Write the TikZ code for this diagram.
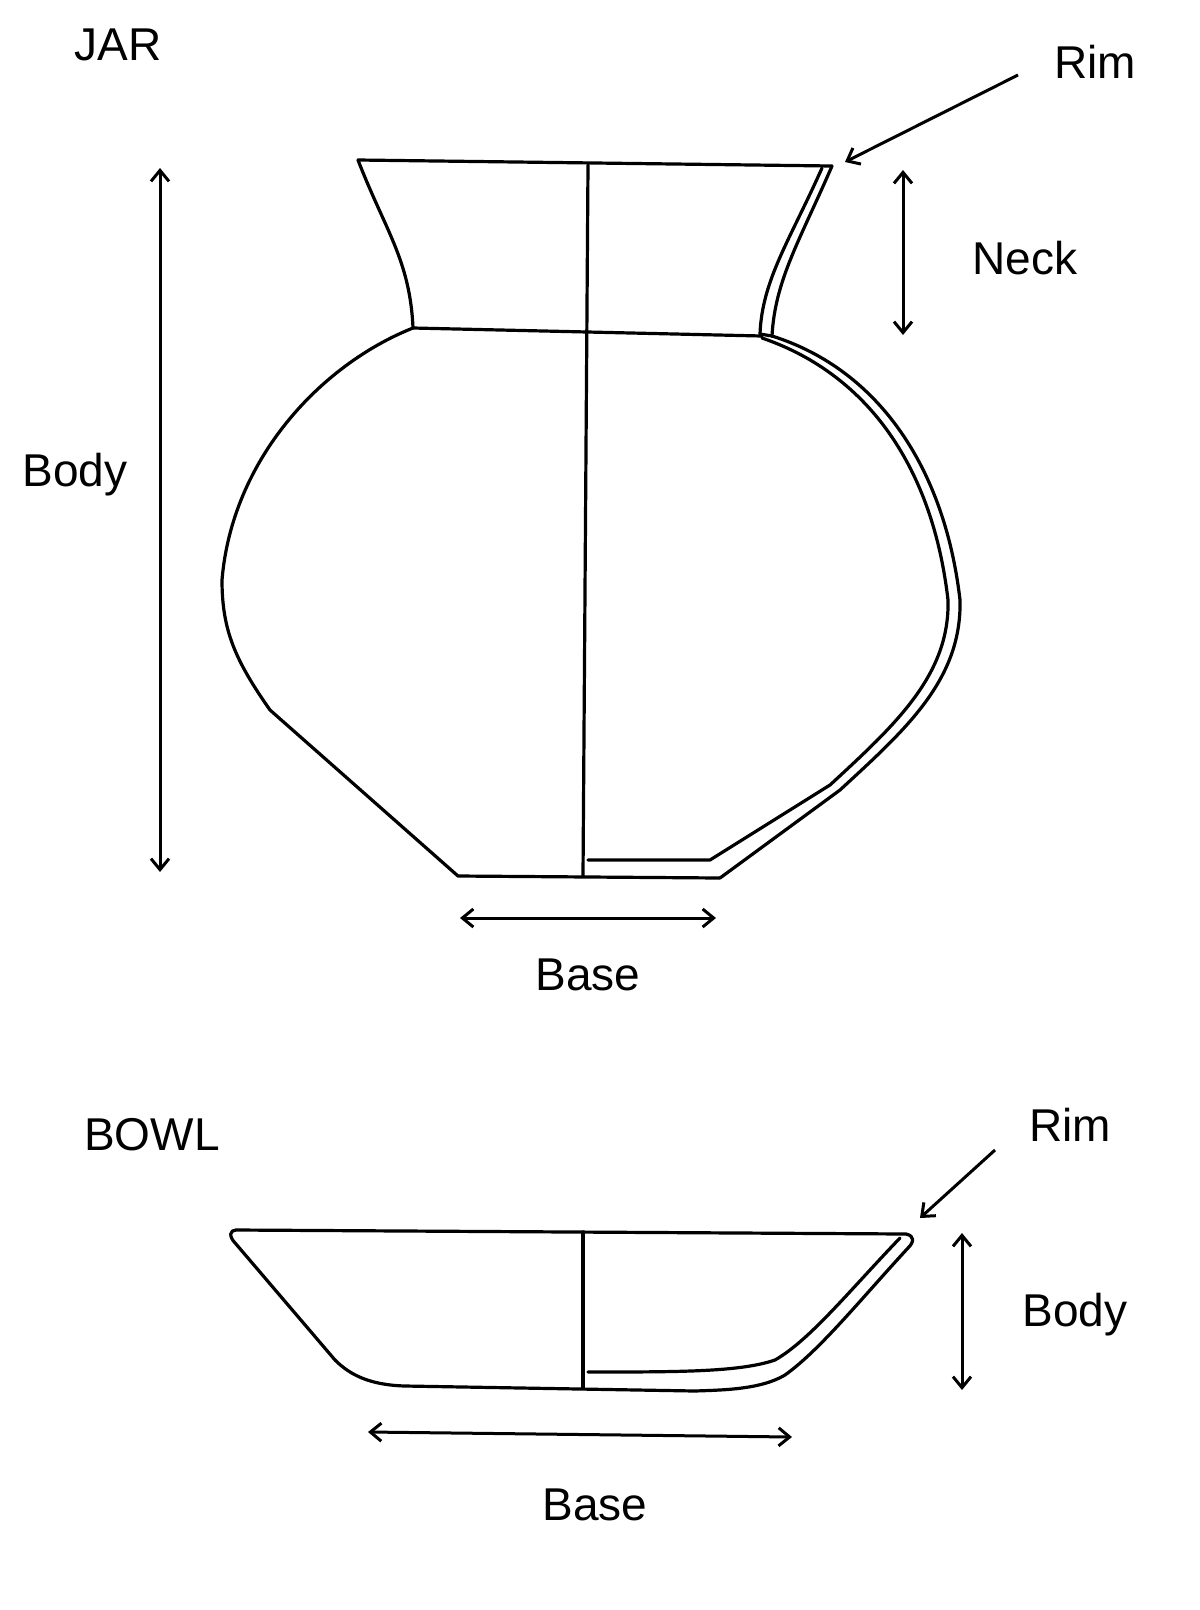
\documentclass[tikz,border=0pt]{standalone}
\usepackage{fontspec}
\setmainfont{Liberation Sans}
\usetikzlibrary{arrows.meta}
\begin{document}
\begin{tikzpicture}[x=1pt,y=-1pt,
  lbl/.style={font=\fontsize{46}{52}\selectfont},
  pot/.style={line width=3.2pt,line join=round,line cap=round},
  dim/.style={line width=3pt,{Straight Barb[length=11pt,width=18pt]}-{Straight Barb[length=11pt,width=18pt]}},
  ptr/.style={line width=3pt,-{Straight Barb[length=11pt,width=18pt]}}]
\useasboundingbox (0,0) rectangle (1200,1610);
% JAR
\draw[pot] (358,160) -- (832,166);
\draw[pot] (358,160) .. controls (385,230) and (410,260) .. (413,328);
\draw[pot] (413,328) -- (762,336);
\draw[pot] (588,165) -- (583,876);
\draw[pot] (413,328) .. controls (320,365) and (232,460) .. (222,580) .. controls (222,630) and (235,660) .. (270,710) -- (458,876) -- (720,878);
\draw[pot] (832,166) .. controls (800,240) and (775,280) .. (772,336);
\draw[pot] (822,168) .. controls (790,240) and (762,280) .. (760,334) -- (772,336);
\draw[pot] (772,336) .. controls (880,370) and (945,470) .. (960,600) .. controls (962,680) and (905,730) .. (840,790) -- (720,878);
\draw[pot] (762,338) .. controls (870,375) and (933,470) .. (948,600) .. controls (950,675) and (895,725) .. (830,785) -- (710,860) -- (588,860);
% BOWL
\draw[pot] (236,1230) -- (906,1234) .. controls (915,1236) and (914,1242) .. (908,1248) .. controls (860,1300) and (820,1350) .. (785,1375) .. controls (760,1390) and (720,1390) .. (695,1391) -- (405,1386) .. controls (370,1385) and (350,1375) .. (335,1360) -- (236,1244) .. controls (228,1236) and (230,1230) .. (236,1230);
\draw[pot] (583,1232) -- (583,1388);
\draw[pot] (900,1238) .. controls (850,1290) and (810,1340) .. (775,1360) .. controls (740,1372) and (680,1372) .. (588,1372);
% labels
\node[lbl] (jar) at (118,45) {JAR};
\node[lbl] (rim1) at (1095,62) {Rim};
\node[lbl] (neck) at (1025,258) {Neck};
\node[lbl] (body1) at (75,475) {Body};
\node[lbl] (base1) at (588,975) {Base};
\node[lbl] (bowl) at (152,1135) {BOWL};
\node[lbl] (rim2) at (1070,1125) {Rim};
\node[lbl] (body2) at (1075,1315) {Body};
\node[lbl] (base2) at (595,1505) {Base};
% arrows
\coordinate (a1) at (160,168); \coordinate (a2) at (160,872);
\draw[dim] (a1) -- (a2);
\coordinate (n1) at (903,170); \coordinate (n2) at (903,335);
\draw[dim] (n1) -- (n2);
\coordinate (b1) at (460,918); \coordinate (b2) at (716,918);
\draw[dim] (b1) -- (b2);
\coordinate (r1s) at (1018,75); \coordinate (r1e) at (845,162);
\draw[ptr] (r1s) -- (r1e);
\coordinate (r2s) at (995,1150); \coordinate (r2e) at (920,1218);
\draw[ptr] (r2s) -- (r2e);
\coordinate (c1) at (962,1233); \coordinate (c2) at (962,1390);
\draw[dim] (c1) -- (c2);
\coordinate (d1) at (368,1432); \coordinate (d2) at (792,1437);
\draw[dim] (d1) -- (d2);
\end{tikzpicture}
\end{document}
